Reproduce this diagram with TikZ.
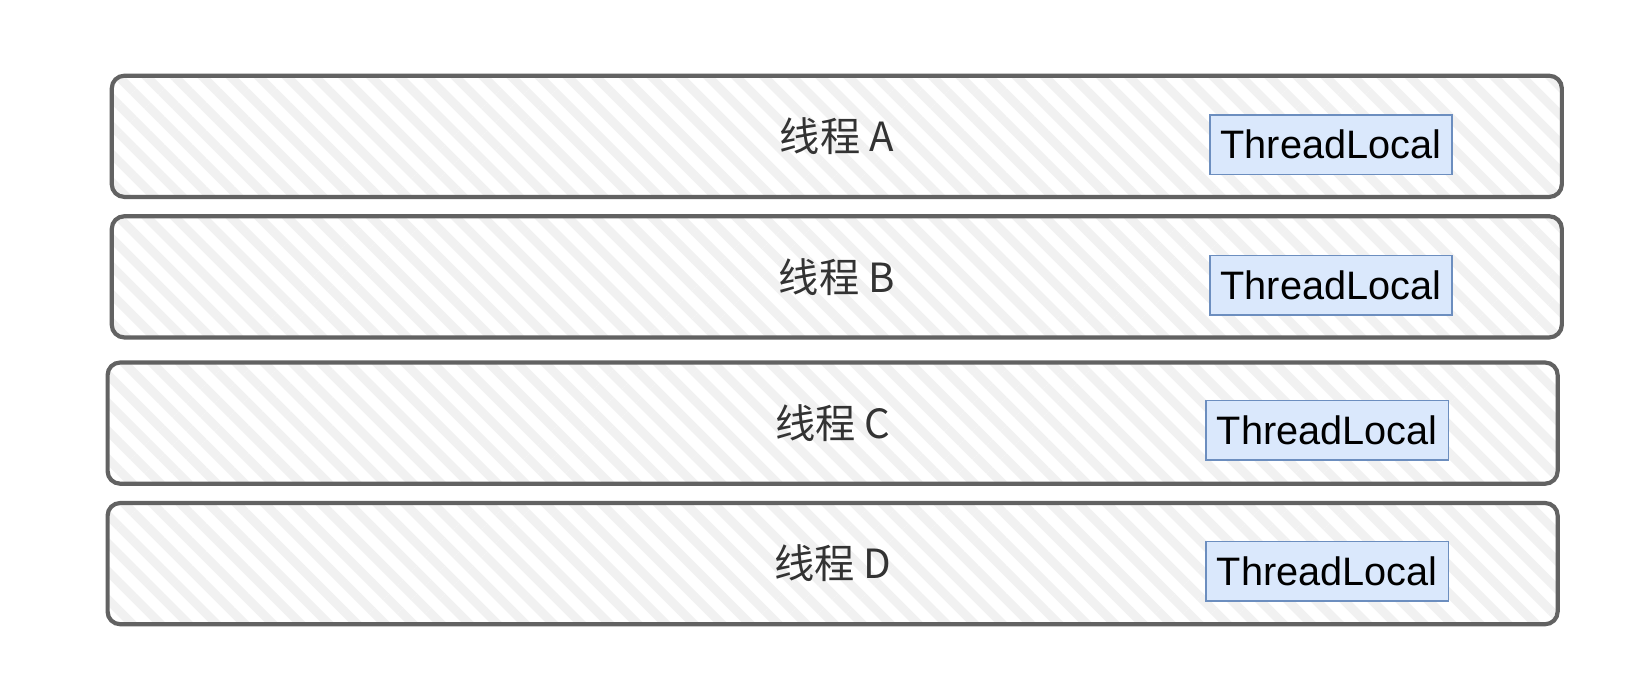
\documentclass[tikz,border=0pt]{standalone}
\usepackage{fontspec}
\setmainfont{Liberation Sans}
\newfontfamily\cjk{Noto Sans CJK SC}
\usepackage{tikz}
\usetikzlibrary{patterns.meta}

\definecolor{rim}{HTML}{626262}
\definecolor{hatch}{HTML}{F1F1F1}
\definecolor{tlfill}{HTML}{DAE8FC}
\definecolor{tldraw}{HTML}{6C8EBF}

\tikzset{
  thread/.style={shape=rectangle, draw=rim, line width=4pt, rounded corners=12pt,
    minimum width=1388pt, minimum height=116pt, inner sep=0pt,
    pattern={Lines[angle=-45,distance=19pt,line width=8.5pt]}, pattern color=hatch,
    text=black!80, font=\cjk\fontsize{38.5}{42}\selectfont},
  tlbox/.style={shape=rectangle, draw=tldraw, fill=tlfill, line width=1.5pt,
    minimum width=232pt, minimum height=57pt, inner sep=0pt,
    font=\fontsize{38}{40}\selectfont}
}

\begin{document}
\begin{tikzpicture}[x=1pt,y=-1pt]

\fill[white] (0,0) rectangle (1566,658.6);
\useasboundingbox (0,0) rectangle (1566,658.6);

\node[thread](tA) at (801,130.5) {线程 A};
\node[thread](tB) at (801,265) {线程 B};
\node[thread](tC) at (797,405) {线程 C};
\node[thread](tD) at (797,539.5) {线程 D};

\node[tlbox](lA) at (1274,138.5) {ThreadLocal};
\node[tlbox](lB) at (1274,273) {ThreadLocal};
\node[tlbox](lC) at (1270.5,412) {ThreadLocal};
\node[tlbox](lD) at (1270.5,547) {ThreadLocal};

\end{tikzpicture}
\end{document}
